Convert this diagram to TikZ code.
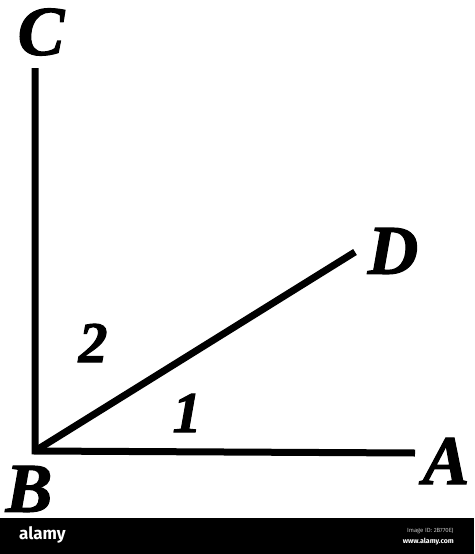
\documentclass[tikz,border=0pt]{standalone}
\usepackage{fontspec}
\setmainfont{Liberation Serif}[BoldItalicFeatures={FakeBold=1.6}]
\setsansfont{Fira Sans}
\usetikzlibrary{positioning}

\begin{document}
\begin{tikzpicture}[x=1pt,y=-1pt]
  \tikzstyle{ray}=[line width=7pt,black]
  \tikzstyle{letter}=[inner sep=0pt,font=\fontsize{70}{70}\selectfont\bfseries\itshape]
  \tikzstyle{number}=[inner sep=0pt,font=\fontsize{58}{58}\selectfont\bfseries\itshape]
  \tikzstyle{stamp}=[inner sep=0pt,white,font=\sffamily]

  \useasboundingbox (0,0) rectangle (474,554);

  % points of the figure
  \coordinate (B) at (35,451);
  \coordinate (C) at (35,68);
  \coordinate (A) at (415,453);
  \coordinate (D) at (355,252);

  % lettering
  \node [letter] (labC) at (41,32)  {C};
  \node [letter] (labD) at (393,251) {D};
  \node [letter] (labA) at (446,461) {A};
  \node [letter] (labB) at (29,489) {B};
  \node [number] (two) at (93,343) {2};
  \node [number] (one) at (187,413) {1};

  % sides
  \draw [ray] (C) -- (B) -- (A);
  \draw [ray] (B) -- (D);

  % strip at the foot
  \fill [black] (0,518) rectangle (474,554);
  \node [stamp,anchor=west,font=\sffamily\bfseries\fontsize{17}{17}\selectfont] (logo) at (19,535) {alamy};
  \node [stamp,anchor=east,white!75!black,font=\sffamily\fontsize{6}{6}\selectfont] (imgid) at (454,531) {Image ID: 2B770EJ};
  \node [stamp,anchor=east,font=\sffamily\bfseries\fontsize{7}{7}\selectfont] (site) at (454,542) {www.alamy.com};
\end{tikzpicture}
\end{document}
